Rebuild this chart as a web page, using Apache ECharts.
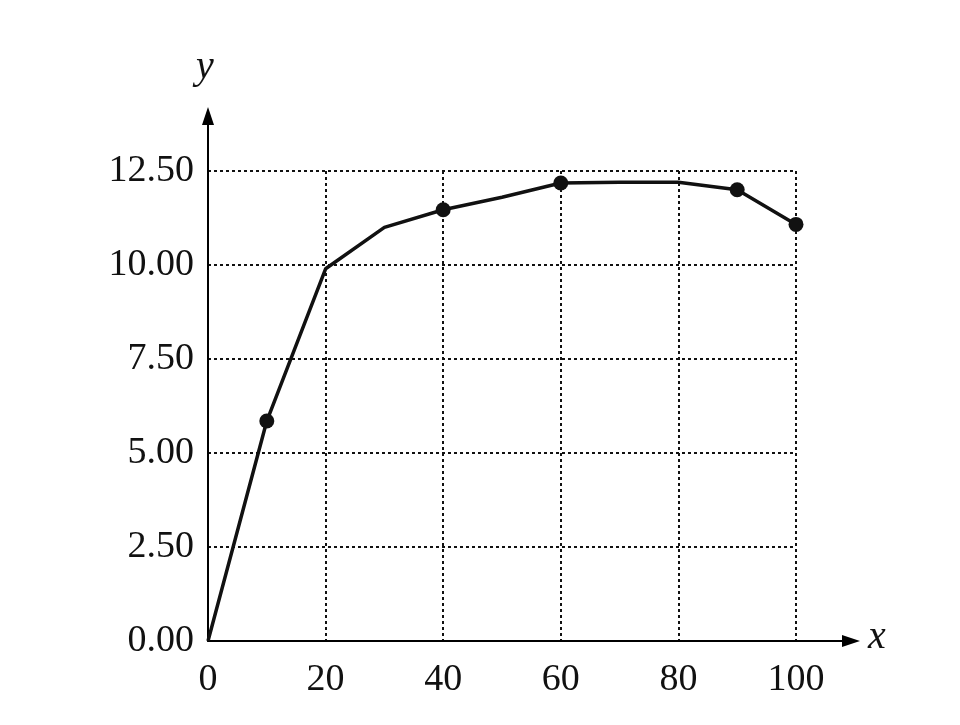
<!DOCTYPE html>
<html>
<head>
<meta charset="utf-8">
<script src="https://cdn.jsdelivr.net/npm/echarts@6/dist/echarts.min.js"></script>
<style>html,body{margin:0;padding:0;background:#fff}#main{width:960px;height:725px}</style>
</head>
<body>
<div id="main"></div>
<script>
var xValues = [0, 10, 20, 30, 40, 50, 60, 70, 80, 90, 100];
var yValues = [0, 5.85, 9.9, 11.0, 11.47, 11.8, 12.18, 12.2, 12.2, 12.0, 11.08];
var marked = [false, true, false, false, true, false, true, false, false, true, true];

(function () {
  var chart = echarts.init(document.getElementById('main'));
  var font = 'Liberation Serif';
  var data = xValues.map(function (x, i) {
    return { value: [x, yValues[i]], symbolSize: marked[i] ? 15 : 0 };
  });
  var option = {
    animation: false,
    grid: { left: 208, right: 164, top: 171, bottom: 84 },
    xAxis: {
      type: 'value', min: 0, max: 100, interval: 20,
      axisLine: { lineStyle: { color: '#000', width: 2 } },
      axisTick: { show: false },
      axisLabel: { color: '#111', fontFamily: font, fontSize: 38, margin: 20 },
      splitLine: { show: true, lineStyle: { color: '#111', type: [3, 3], width: 2 } }
    },
    yAxis: {
      type: 'value', min: 0, max: 12.5, interval: 2.5,
      axisLine: { show: true, lineStyle: { color: '#000', width: 2 } },
      axisTick: { show: false },
      axisLabel: {
        color: '#111', fontFamily: font, fontSize: 38, margin: 14,
        formatter: function (v) { return v.toFixed(2); }
      },
      splitLine: { show: true, lineStyle: { color: '#111', type: [3, 3], width: 2 } }
    },
    series: [{
      type: 'line',
      data: data,
      symbol: 'circle',
      lineStyle: { color: '#111', width: 3.5 },
      itemStyle: { color: '#111' }
    }]
  };
  chart.setOption(option);

  // axis arrows and names
  var o = chart.convertToPixel({ gridIndex: 0 }, [0, 0]);
  var tr = chart.convertToPixel({ gridIndex: 0 }, [100, 12.5]);
  var xEnd = tr[0] + 58, yEnd = tr[1] - 58;
  chart.setOption({
    graphic: [
      { type: 'line', shape: { x1: o[0], y1: o[1], x2: xEnd, y2: o[1] }, style: { stroke: '#000', lineWidth: 2 } },
      { type: 'polygon', shape: { points: [[xEnd + 6, o[1]], [xEnd - 12, o[1] - 6], [xEnd - 12, o[1] + 6]] }, style: { fill: '#000' } },
      { type: 'line', shape: { x1: o[0], y1: o[1], x2: o[0], y2: yEnd }, style: { stroke: '#000', lineWidth: 2 } },
      { type: 'polygon', shape: { points: [[o[0], yEnd - 6], [o[0] - 6, yEnd + 12], [o[0] + 6, yEnd + 12]] }, style: { fill: '#000' } },
      { type: 'text', x: xEnd + 14, y: o[1] - 24, style: { text: 'x', font: 'italic 40px "Liberation Serif"', fill: '#111' } },
      { type: 'text', x: o[0] - 12, y: yEnd - 66, style: { text: 'y', font: 'italic 40px "Liberation Serif"', fill: '#111' } }
    ]
  });
  window.addEventListener('resize', function () { chart.resize(); });
})();
</script>
</body>
</html>
